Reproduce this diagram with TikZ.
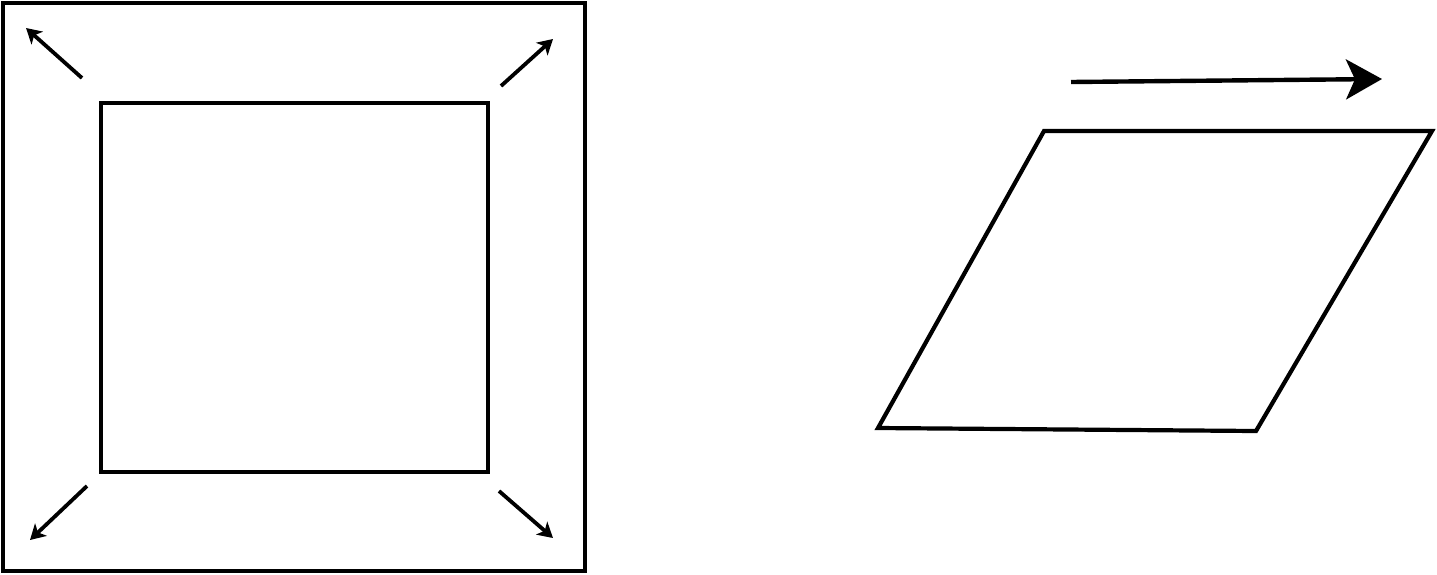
\documentclass[tikz,border=0pt]{standalone}
\usetikzlibrary{arrows.meta}
\tikzset{
  outerbox/.style={line width=4.8pt},
  innerbox/.style={line width=4pt},
  smallarrow/.style={line width=3.8pt,-{Stealth[length=15pt,width=17pt,inset=4pt]}},
  bigarrow/.style={line width=4.4pt,-{Stealth[length=36pt,width=40pt,inset=9pt]}},
  rhombus/.style={line width=4.2pt,line join=miter}
}
\begin{document}
\begin{tikzpicture}[x=1pt,y=-1pt]
\useasboundingbox (0,0) rectangle (1437,574);
% outer and inner squares
\coordinate (o1) at (3,3);
\coordinate (o2) at (585,571);
\coordinate (i1) at (101,103);
\coordinate (i2) at (488,472);
\draw[outerbox] (o1) rectangle (o2);
\draw[innerbox] (i1) rectangle (i2);
% corner arrows
\coordinate (tlA) at (82,78);  \coordinate (tlB) at (26,28);
\coordinate (trA) at (501,86); \coordinate (trB) at (553,39);
\coordinate (blA) at (87,486); \coordinate (blB) at (30,540);
\coordinate (brA) at (499,491);\coordinate (brB) at (553,538);
\draw[smallarrow] (tlA) -- (tlB);
\draw[smallarrow] (trA) -- (trB);
\draw[smallarrow] (blA) -- (blB);
\draw[smallarrow] (brA) -- (brB);
% shear arrow
\coordinate (sA) at (1071,82);
\coordinate (sB) at (1382,79);
\draw[bigarrow] (sA) -- (sB);
% parallelogram
\coordinate (p1) at (1044,131);
\coordinate (p2) at (1432,131);
\coordinate (p3) at (1256,431);
\coordinate (p4) at (878,428);
\draw[rhombus] (p1) -- (p2) -- (p3) -- (p4) -- cycle;
\end{tikzpicture}
\end{document}
